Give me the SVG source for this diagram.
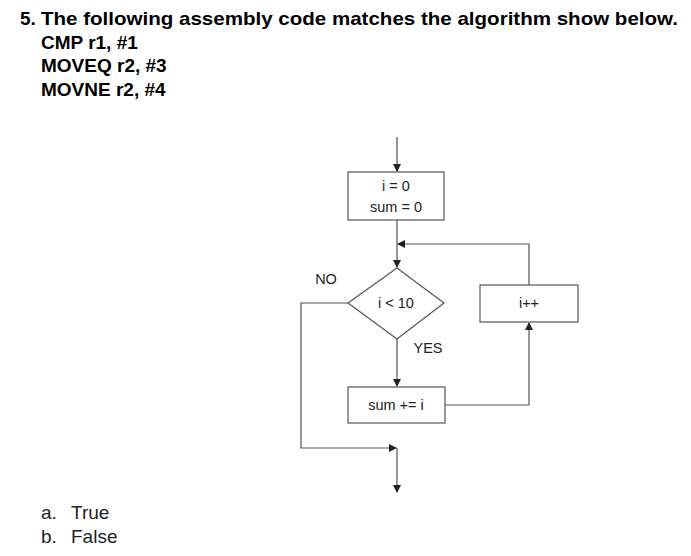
<svg xmlns="http://www.w3.org/2000/svg" width="691" height="556" viewBox="0 0 691 556">
<style>
.t{font-family:"Liberation Sans",Arial,sans-serif;font-size:19px;font-weight:bold;fill:#000}
.a{font-family:"Liberation Sans",Arial,sans-serif;font-size:19px;fill:#222}
.f{font-family:"Liberation Sans",Arial,sans-serif;font-size:14.5px;fill:#222;text-anchor:middle}
.s{fill:#fff;stroke:#555;stroke-width:1.2}
.c{fill:none;stroke:#555;stroke-width:1.2}
</style>
<defs><marker id="ar" markerWidth="8" markerHeight="8" refX="7" refY="4" orient="auto" markerUnits="userSpaceOnUse"><path d="M0,0 L8,4 L0,8 z" fill="#222"/></marker></defs>
<rect width="691" height="556" fill="#fff"/>
<text class="t" x="20" y="25">5.</text>
<text class="t" x="41" y="25" textLength="637" lengthAdjust="spacingAndGlyphs">The following assembly code matches the algorithm show below.</text>
<text class="t" x="41" y="49">CMP r1, #1</text>
<text class="t" x="41" y="72">MOVEQ r2, #3</text>
<text class="t" x="41" y="96">MOVNE r2, #4</text>
<text class="a" x="41" y="519">a.</text><text class="a" x="71" y="519">True</text>
<text class="a" x="41" y="543">b.</text><text class="a" x="71" y="543">False</text>
<g id="connectors">
<path class="c" d="M397,137 V171" marker-end="url(#ar)"/>
<path class="c" d="M397,220 V267" marker-end="url(#ar)"/>
<path class="c" d="M529,285 V244 H398" marker-end="url(#ar)"/>
<path class="c" d="M397,339 V386" marker-end="url(#ar)"/>
<path class="c" d="M445,405 H529 V323" marker-end="url(#ar)"/>
<path class="c" d="M348,303 H301 V448 H396" marker-end="url(#ar)"/>
<path class="c" d="M397,448 V492" marker-end="url(#ar)"/>
</g>
<g id="init"><rect class="s" x="348" y="172" width="96" height="48"/><text class="f" x="396" y="191">i = 0</text><text class="f" x="396" y="212">sum = 0</text></g>
<g id="cond"><path class="s" d="M397,268 L444,303 L397,339 L348,303 z"/><text class="f" x="396" y="308">i &lt; 10</text></g>
<g id="inc"><rect class="s" x="480" y="285" width="98" height="37"/><text class="f" x="529" y="308">i++</text></g>
<g id="body"><rect class="s" x="348" y="387" width="97" height="36"/><text class="f" x="396" y="410">sum += i</text></g>
<text class="f" x="326" y="284">NO</text>
<text class="f" x="428" y="353">YES</text>
</svg>
